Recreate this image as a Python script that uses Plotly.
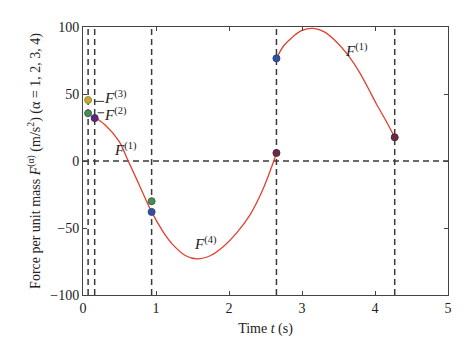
import plotly.graph_objects as go

# Curve segments (time s, force per unit mass m/s^2)
seg1_t = [0.16, 0.30, 0.49, 0.62, 0.78, 0.94, 1.10, 1.24, 1.40, 1.56, 1.75, 1.92, 2.10, 2.29, 2.45, 2.58, 2.65]
seg1_f = [32.6, 27.0, 15.0, 0.0, -19.0, -38.0, -53.0, -63.0, -70.5, -73.0, -70.5, -64.0, -54.0, -40.0, -23.0, -5.0, 6.0]
seg2_t = [2.65, 2.75, 2.88, 3.00, 3.155, 3.30, 3.47, 3.63, 3.79, 3.90, 4.02, 4.15, 4.27]
seg2_f = [76.6, 86.0, 93.0, 97.5, 99.0, 96.5, 89.0, 79.0, 66.0, 55.0, 42.5, 30.0, 17.7]

# Markers
pts_orange_t, pts_orange_f = [0.07], [45.5]
pts_green_t, pts_green_f = [0.07, 0.94], [35.6, -30.0]
pts_purple_t, pts_purple_f = [0.16], [32.0]
pts_blue_t, pts_blue_f = [0.94, 2.65], [-38.0, 76.6]
pts_maroon_t, pts_maroon_f = [2.65, 4.27], [6.0, 17.7]

vlines = [0.07, 0.16, 0.94, 2.65, 4.27]

xticks = [0, 1, 2, 3, 4, 5]
yticks = [-100, -50, 0, 50, 100]

fig = go.Figure()
red = "#e2402e"
fig.add_trace(go.Scatter(x=seg1_t, y=seg1_f, mode="lines", line=dict(color=red, width=1.3, shape="spline"), showlegend=False))
fig.add_trace(go.Scatter(x=seg2_t, y=seg2_f, mode="lines", line=dict(color=red, width=1.3, shape="spline"), showlegend=False))

for v in vlines:
    fig.add_shape(type="line", x0=v, x1=v, y0=-100, y1=100, xref="x", yref="y",
                  line=dict(color="#3a3a3a", width=1.5, dash="6px,4px"), layer="below")
fig.add_shape(type="line", x0=0, x1=5, y0=0, y1=0, xref="x", yref="y",
              line=dict(color="#3a3a3a", width=1.5, dash="6px,4px"), layer="below")

def mk(t, f, color, edge):
    fig.add_trace(go.Scatter(x=t, y=f, mode="markers", marker=dict(size=7, color=color, line=dict(color=edge, width=1)), showlegend=False))

mk(pts_orange_t, pts_orange_f, "#d9a030", "#6f9a3a")
mk(pts_green_t, pts_green_f, "#4f8a55", "#3a6a4a")
mk(pts_purple_t, pts_purple_f, "#5a2a7a", "#4a2060")
mk(pts_blue_t, pts_blue_f, "#33509e", "#2a4490")
mk(pts_maroon_t, pts_maroon_f, "#6a2a44", "#55203a")

serif = "Liberation Serif, Times New Roman, serif"
ann_font = dict(family=serif, size=15, color="#222")
labels = [
    (0.44, 48, "<i>F</i><sup>(3)</sup>"),
    (0.44, 35, "<i>F</i><sup>(2)</sup>"),
    (0.58, 9, "<i>F</i><sup>(1)</sup>"),
    (1.68, -61, "<i>F</i><sup>(4)</sup>"),
    (3.75, 83, "<i>F</i><sup>(1)</sup>"),
]
for x, y, txt in labels:
    fig.add_annotation(x=x, y=y, text=txt, showarrow=False, font=ann_font, xanchor="center", yanchor="middle")
# leader lines
fig.add_shape(type="line", x0=0.15, x1=0.29, y0=44.5, y1=44.5, line=dict(color="#333", width=1))
fig.add_shape(type="line", x0=0.2, x1=0.29, y0=36, y1=36, line=dict(color="#333", width=1))

fig.update_xaxes(range=[0, 5], tickvals=xticks, ticks="inside", ticklen=4, mirror="ticks",
                 showline=True, linecolor="#444", linewidth=1, showgrid=False, zeroline=False,
                 title=dict(text="Time <i>t</i> (s)", font=dict(family=serif, size=14, color="#222"), standoff=8),
                 tickfont=dict(family=serif, size=14, color="#222"), automargin=False)
fig.update_yaxes(range=[-100, 100], tickvals=yticks, ticktext=["−100", "−50", "0", "50", "100"],
                 ticks="inside", ticklen=4, mirror="ticks",
                 showline=True, linecolor="#444", linewidth=1, showgrid=False, zeroline=False,
                 title=dict(text="Force per unit mass <i>F</i><sup>(α)</sup> (m/s<sup>2</sup>) (α = 1, 2, 3, 4)",
                            font=dict(family=serif, size=14, color="#222"), standoff=6),
                 tickfont=dict(family=serif, size=14, color="#222"), automargin=False)
fig.update_layout(width=466, height=350, margin=dict(l=75, r=26, t=19, b=63),
                  plot_bgcolor="white", paper_bgcolor="white")
fig.write_html("out.html")
